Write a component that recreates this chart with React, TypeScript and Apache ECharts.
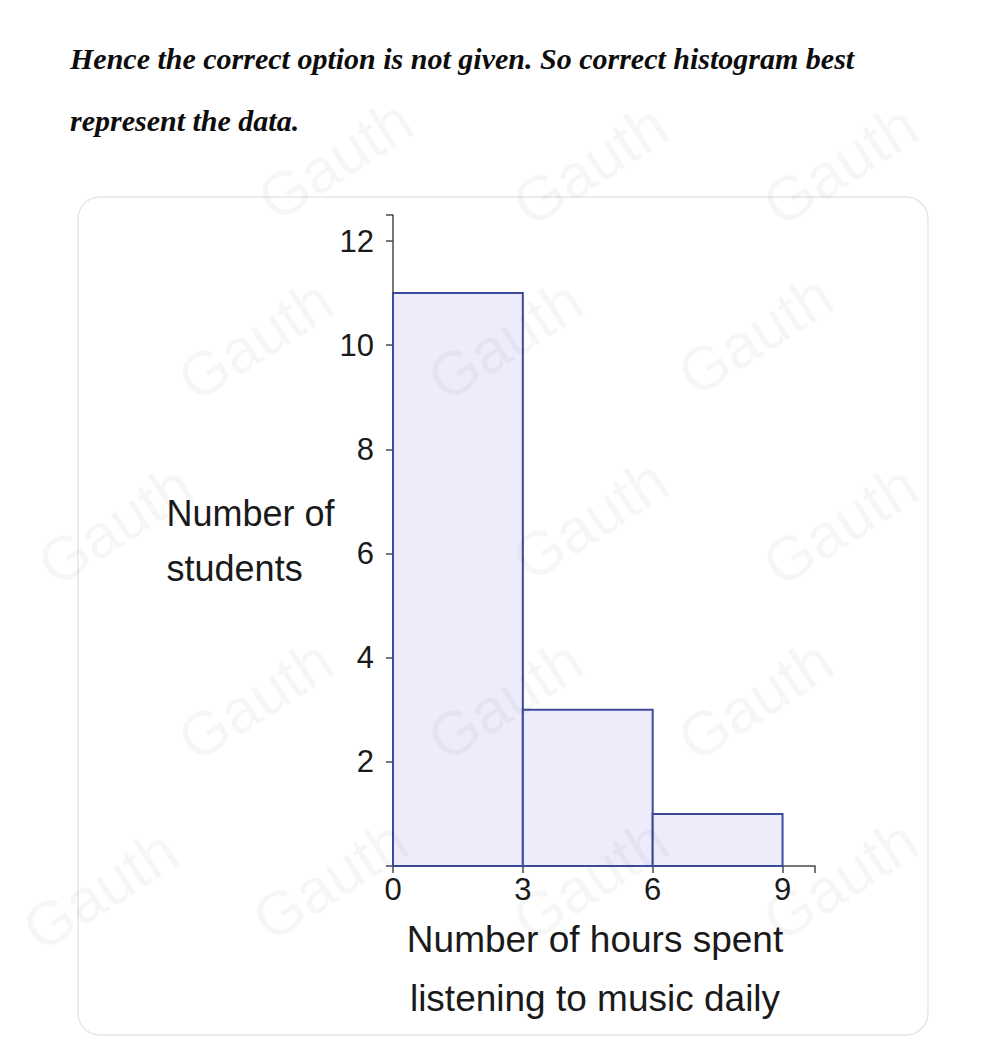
import React, { useEffect, useRef } from "react";
import * as echarts from "echarts";

const binStarts = [0, 3, 6];
const binEnds = [3, 6, 9];
const counts = [11, 3, 1];
const xTicks = [0, 3, 6, 9];
const yTicks = [2, 4, 6, 8, 10, 12];
const titleLines = [
  "Hence the correct option is not given. So correct histogram best",
  "represent the data.",
];
const yName = "Number of\nstudents";
const xName = "Number of hours spent\nlistening to music daily";
const watermarkSpots = [
  [335, 160], [590, 165], [840, 165],
  [255, 340], [505, 340], [755, 335],
  [115, 525], [590, 520], [840, 525],
  [255, 700], [505, 700], [755, 700],
  [100, 890], [330, 880], [590, 880], [840, 880],
];

export default function App() {
  const ref = useRef<HTMLDivElement>(null);
  useEffect(() => {
    document.body.style.margin = "0";
    const chart = echarts.init(ref.current!, undefined, { renderer: "svg" });
    const data = binStarts.map((s, i) => [s, binEnds[i], counts[i]]);
    const font = "'Liberation Sans', Arial, sans-serif";
    chart.setOption({
      animation: false,
      backgroundColor: "#ffffff",
      grid: { left: 393, top: 215, right: 185, bottom: 197, containLabel: false },
      xAxis: {
        type: "value",
        min: 0,
        max: 9.75,
        interval: 3,
        splitLine: { show: false },
        axisLine: { show: true, lineStyle: { color: "#4a4a4a", width: 1.5 } },
        axisTick: { show: true, length: 7, lineStyle: { color: "#4a4a4a", width: 1.5 } },
        axisLabel: {
          color: "#1a1a1a",
          fontSize: 31,
          fontFamily: font,
          margin: 8,
          formatter: (v: number) => (xTicks.includes(v) ? String(v) : ""),
        },
        name: xName,
        nameLocation: "middle",
        nameGap: 42,
        nameTextStyle: {
          color: "#1a1a1a",
          fontSize: 37,
          fontFamily: font,
          lineHeight: 59,
          verticalAlign: "top",
          padding: [0, 18, 0, 0],
        },
      },
      yAxis: {
        type: "value",
        min: 0,
        max: 12.5,
        interval: 2,
        splitLine: { show: false },
        axisLine: { show: true, lineStyle: { color: "#4a4a4a", width: 1.5 } },
        axisTick: { show: true, length: 7, lineStyle: { color: "#4a4a4a", width: 1.5 } },
        axisLabel: {
          color: "#1a1a1a",
          fontSize: 31,
          fontFamily: font,
          margin: 19,
          formatter: (v: number) => (yTicks.includes(v) ? String(v) : ""),
        },
        name: yName,
        nameLocation: "middle",
        nameRotate: 0,
        nameGap: 219,
        nameTextStyle: {
          color: "#1a1a1a",
          fontSize: 36,
          fontFamily: font,
          lineHeight: 55,
          align: "left",
        },
      },
      series: [
        {
          type: "custom",
          data,
          encode: { x: [0, 1], y: 2 },
          renderItem: (params: any, api: any) => {
            const p0 = api.coord([api.value(0), api.value(2)]);
            const p1 = api.coord([api.value(1), 0]);
            return {
              type: "rect",
              shape: { x: p0[0], y: p0[1], width: p1[0] - p0[0], height: p1[1] - p0[1] },
              style: { fill: "#ececfb", stroke: "#3d4a9c", lineWidth: 2 },
            };
          },
          z: 1,
        },
      ],
      graphic: [
        {
          type: "rect",
          shape: { x: 78, y: 197, width: 850, height: 838, r: 22 },
          style: { fill: "none", stroke: "#e6e6e6", lineWidth: 1.5 },
          z: -1,
        },
        ...titleLines.map((t, i) => ({
          type: "text",
          x: 70,
          y: 58 + i * 62,
          style: {
            text: t,
            fill: "#0d0d0d",
            font: "italic bold 30px 'Liberation Serif', serif",
            textVerticalAlign: "middle",
          },
        })),
        ...watermarkSpots.map(([x, y]) => ({
          type: "text",
          x,
          y,
          rotation: Math.PI / 5.5,
          style: {
            text: "Gauth",
            fill: "rgba(0,0,0,0.035)",
            font: "62px 'Liberation Sans', sans-serif",
            textAlign: "center",
            textVerticalAlign: "middle",
          },
          z: 100,
        })),
      ],
    });
    return () => chart.dispose();
  }, []);
  return <div ref={ref} style={{ width: 1000, height: 1063 }} />;
}
